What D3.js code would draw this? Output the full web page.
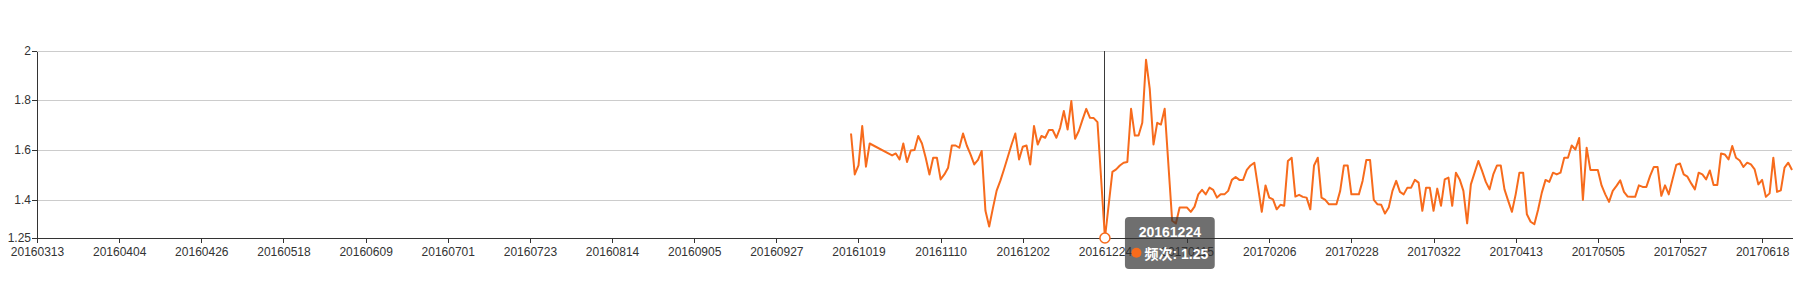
<!DOCTYPE html>
<html>
<head>
<meta charset="utf-8">
<script src="https://cdn.jsdelivr.net/npm/d3@7"></script>
<style>
  body { margin: 0; background: #fff; }
  svg { display: block; }
</style>
</head>
<body>
<div id="chart"></div>
<script>
// category axis: one entry per day
const firstDay = '20160313';
const lastDay = '20170626';

// series 频次, daily from seriesStart (null = no visible vertex, line runs straight through)
const seriesName = '频次';
const seriesStart = '20161017';
const values = [
  1.669, 1.505, 1.541, 1.699, 1.536, 1.629, null, null, null, null, null, 1.581,
  1.589, 1.565, 1.629, 1.555, 1.601, 1.603, 1.659, 1.629, 1.572, 1.505, 1.572, 1.572,
  1.485, 1.505, 1.532, 1.621, 1.621, 1.612, 1.669, 1.621, 1.585, 1.545, 1.563, 1.599,
  1.359, 1.296, 1.37, 1.44, 1.48, 1.527, 1.576, 1.625, 1.669, 1.565, 1.616, 1.621,
  1.545, 1.699, 1.625, 1.659, 1.652, 1.683, 1.683, 1.652, 1.692, 1.759, 1.685, 1.799,
  1.648, 1.679, 1.725, 1.768, 1.732, 1.731, 1.715, null, 1.25, null, 1.515, 1.525,
  1.541, 1.552, 1.555, 1.768, 1.661, 1.661, 1.712, 1.965, 1.848, 1.625, 1.712, 1.705,
  1.768, null, 1.319, 1.308, 1.372, 1.372, 1.372, 1.355, 1.376, 1.425, 1.443, 1.425,
  1.452, 1.443, 1.412, 1.425, 1.425, 1.439, 1.483, 1.495, 1.483, 1.483, 1.523, 1.541,
  1.552, null, 1.355, 1.461, 1.412, 1.405, 1.365, 1.383, 1.379, 1.559, 1.572, 1.416,
  1.423, 1.415, 1.412, 1.365, 1.541, 1.572, 1.412, 1.403, 1.385, 1.385, 1.385, 1.439,
  1.541, 1.541, 1.425, 1.425, 1.425, 1.479, 1.563, 1.563, 1.403, 1.385, 1.383, 1.348,
  1.372, 1.439, 1.479, 1.435, 1.425, 1.452, 1.452, 1.483, 1.472, 1.359, 1.452, 1.452,
  1.359, 1.448, 1.379, 1.485, 1.492, 1.379, 1.512, 1.485, 1.439, 1.309, 1.465, 1.512,
  1.559, 1.519, 1.475, 1.445, 1.505, 1.541, 1.541, 1.445, 1.399, 1.355, 1.425, 1.512,
  1.512, 1.345, 1.315, 1.305, 1.363, 1.432, 1.483, 1.475, 1.512, 1.505, 1.512, 1.572,
  1.572, 1.621, 1.605, 1.651, 1.403, 1.612, 1.523, 1.523, 1.523, 1.461, 1.425, 1.395,
  1.439, 1.459, 1.481, 1.435, 1.416, 1.415, 1.415, 1.461, 1.455, 1.455, 1.499, 1.535,
  1.535, 1.419, 1.461, 1.425, 1.485, 1.543, 1.549, 1.505, 1.496, 1.469, 1.445, 1.512,
  1.505, 1.485, 1.521, 1.463, 1.463, 1.589, 1.585, 1.565, 1.619, 1.572, 1.561, 1.535,
  1.552, 1.545, 1.525, 1.465, 1.483, 1.415, 1.429, 1.572, 1.435, 1.441, 1.532, 1.552,
  1.523
];

const yTicks = [1.25, 1.4, 1.6, 1.8, 2];
const xTickLabels = [
  '20160313', '20160404', '20160426', '20160518', '20160609', '20160701',
  '20160723', '20160814', '20160905', '20160927', '20161019', '20161110',
  '20161202', '20161224', '20170115', '20170206', '20170228', '20170322',
  '20170413', '20170505', '20170527', '20170618'
];

// hovered point shown with the tooltip
const hoverDay = '20161224';

const W = 1805, H = 301;
const LEFT = 37, RIGHT = 1792, TOP = 51, BOTTOM = 238;
const LINE_COLOR = '#f76b1c';
const FONT = '"Liberation Sans", Arial, "Noto Sans CJK SC", sans-serif';

const parse = d3.timeParse('%Y%m%d');
const fmt = d3.timeFormat('%Y%m%d');

const categories = d3.timeDay
    .range(parse(firstDay), d3.timeDay.offset(parse(lastDay), 1))
    .map(fmt);

const points = values
    .map((v, i) => ({ day: fmt(d3.timeDay.offset(parse(seriesStart), i)), value: v }))
    .filter(d => d.value !== null);

const x = d3.scalePoint().domain(categories).range([LEFT, RIGHT]);
const y = d3.scaleLinear().domain([1.25, 2]).range([BOTTOM, TOP]);
const crisp = v => Math.floor(v) + 0.5;

const svg = d3
    .select('#chart')
    .append('svg')
    .attr('width', W)
    .attr('height', H)
    .style('font-family', FONT);

// grid lines
svg
    .append('g')
    .selectAll('line')
    .data(yTicks.filter(t => t !== 1.25))
    .join('line')
    .attr('x1', LEFT)
    .attr('x2', RIGHT)
    .attr('y1', d => crisp(y(d)))
    .attr('y2', d => crisp(y(d)))
    .attr('stroke', '#ccc')
    .attr('shape-rendering', 'crispEdges');

// x axis
const xAxis = svg
    .append('g')
    .attr('transform', `translate(0, ${crisp(BOTTOM) - 0.5})`)
    .call(d3.axisBottom(x).tickValues(xTickLabels).tickSize(5).tickSizeOuter(0).tickPadding(4));

// y axis
const yAxis = svg
    .append('g')
    .attr('transform', `translate(${LEFT}, 0)`)
    .call(d3.axisLeft(y).tickValues(yTicks).tickFormat(d3.format('')).tickSize(5).tickSizeOuter(0).tickPadding(1));

[xAxis, yAxis].forEach(g => {
    g.attr('font-family', FONT).attr('font-size', 12);
    g.select('.domain').attr('stroke', '#333').attr('shape-rendering', 'crispEdges');
    g.selectAll('.tick line').attr('stroke', '#333').attr('shape-rendering', 'crispEdges');
    g.selectAll('.tick text').attr('fill', '#333');
});

// y axis ticks sit on crisp rows
yAxis.selectAll('.tick').attr('transform', d => `translate(0, ${crisp(y(d)) - 0.5})`);

// axis pointer
const hx = crisp(x(hoverDay));
svg
    .append('line')
    .attr('x1', hx)
    .attr('x2', hx)
    .attr('y1', TOP)
    .attr('y2', BOTTOM)
    .attr('stroke', '#3a3a3a')
    .attr('shape-rendering', 'crispEdges');

// series line
const line = d3
    .line()
    .x(d => x(d.day))
    .y(d => y(d.value));

svg
    .append('path')
    .datum(points)
    .attr('d', line)
    .attr('fill', 'none')
    .attr('stroke', LINE_COLOR)
    .attr('stroke-width', 2)
    .attr('stroke-linejoin', 'round');

// hovered symbol
const hover = points.find(d => d.day === hoverDay);
svg
    .append('circle')
    .attr('cx', x(hover.day))
    .attr('cy', y(hover.value))
    .attr('r', 5)
    .attr('fill', '#fff')
    .attr('stroke', LINE_COLOR)
    .attr('stroke-width', 1.5);

// tooltip
const tip = svg
    .append('g')
    .attr('transform', `translate(${x(hover.day) + 20}, 217)`);

const box = tip.append('rect').attr('rx', 4).attr('ry', 4).attr('fill', 'rgba(50,50,50,0.7)');

const t1 = tip
    .append('text')
    .attr('y', 19.8)
    .attr('font-size', 14)
    .attr('font-weight', 'bold')
    .attr('fill', '#fff')
    .attr('text-anchor', 'middle')
    .text(hover.day);

const row2 = tip.append('g');
const t2 = row2
    .append('text')
    .attr('x', 13)
    .attr('y', 42.3)
    .attr('font-size', 14)
    .attr('font-weight', 'bold')
    .attr('fill', '#fff')
    .text(`${seriesName}: ${hover.value}`);
row2
    .append('circle')
    .attr('cx', 5)
    .attr('cy', 35.7)
    .attr('r', 5)
    .attr('fill', LINE_COLOR);

const w2 = 13 + t2.node().getComputedTextLength();
const w1 = t1.node().getComputedTextLength();
const boxW = Math.max(w1, w2) + 13;
box.attr('width', boxW).attr('height', 52);
t1.attr('x', boxW / 2);
row2.attr('transform', `translate(${(boxW - w2) / 2}, 0)`);
</script>
</body>
</html>
